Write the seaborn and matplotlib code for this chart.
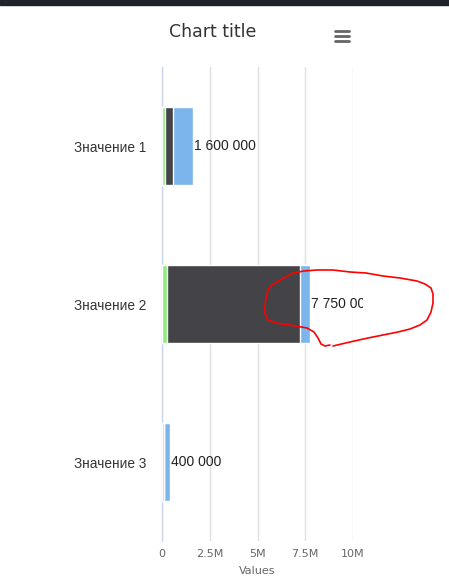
import matplotlib
matplotlib.use('Agg')
import matplotlib.pyplot as plt
import matplotlib.transforms as mtransforms
from matplotlib.lines import Line2D
from matplotlib.patches import Rectangle
import pandas as pd
import seaborn as sns

# данные
categories = ['Значение 1', 'Значение 2', 'Значение 3']
green_vals = [0.15e6, 0.25e6, 0.08e6]
dark_vals = [0.40e6, 6.95e6, 0.0]
blue_vals = [1.05e6, 0.55e6, 0.32e6]
value_labels = ['1 600 000', '7 750 000', '400 000']
x_ticks = [0, 2.5e6, 5e6, 7.5e6, 10e6]
x_ticklabels = ['0', '2.5M', '5M', '7.5M', '10M']

W, H = 449, 576
sns.set_theme(style='white')
plt.rcParams['font.family'] = ['DejaVu Sans']

fig = plt.figure(figsize=(W / 100, H / 100), dpi=100)
fig.patch.set_facecolor('white')
ax = fig.add_axes([162 / W, 1 - 541 / H, (353 - 162) / W, (541 - 67) / H])

df = pd.DataFrame({'cat': categories, 'g': green_vals, 'd': dark_vals, 'b': blue_vals})
df['gd'] = df['g'] + df['d']
df['total'] = df['gd'] + df['b']

# стек: рисуем накопленные суммы, от полной к меньшей
for col, color in [('total', '#7cb5ec'), ('gd', '#434348'), ('g', '#90ed7d')]:
    sns.barplot(data=df, y='cat', x=col, orient='h', color=color, width=0.49,
                edgecolor='white', linewidth=1, saturation=1, ax=ax, zorder=3)

ax.set_xlim(0, 10e6)
ax.set_xticks(x_ticks)
ax.set_xticklabels(x_ticklabels, color='#666666', fontsize=8)
ax.set_yticks(range(len(categories)))
ax.set_yticklabels(categories, fontfamily='Liberation Sans', fontsize=9.8, color='#333333')
ax.tick_params(axis='x', length=0, pad=6)
ax.tick_params(axis='y', length=0, pad=11.5)
ax.set_xlabel('')
ax.set_ylabel('')
ax.grid(axis='x', color='#e0e0e0', linewidth=1, zorder=0)
ax.set_axisbelow(True)
for s in ['top', 'right', 'bottom']:
    ax.spines[s].set_visible(False)
ax.spines['left'].set_color('#ccd6eb')
ax.spines['left'].set_linewidth(1)
ax.spines['left'].set_zorder(1)

clip = mtransforms.TransformedBbox(mtransforms.Bbox([[0, 0], [363 / W, 1]]), fig.transFigure)
for i, (tot, lab) in enumerate(zip(df['total'], value_labels)):
    t = ax.annotate(lab, (tot, i), xytext=(1.0, 0), textcoords='offset points',
                    ha='left', va='center', fontsize=10, color='#222222',
                    family='Liberation Sans', annotation_clip=False, zorder=5)
    t.set_clip_box(clip)
    t.set_clip_on(True)

# заголовок и подпись оси
fig.text(213 / W, 1 - 32 / H, 'Chart title', ha='center', va='center',
         fontsize=12.5, color='#333333')
fig.text(257.5 / W, 1 - 566 / H, 'Values', ha='center', va='top',
         fontsize=8, color='#666666')

# верхняя тёмная полоса
fig.add_artist(Rectangle((0, 1 - 5 / H), 1, 5 / H, transform=fig.transFigure,
                         color='#1f232a', zorder=10))

# иконка меню
for yy in [31, 36, 41]:
    fig.add_artist(Line2D([335 / W, 349 / W], [1 - yy / H, 1 - yy / H],
                          transform=fig.transFigure, color='#666666',
                          linewidth=2, solid_capstyle='round'))

# красная обводка от руки
loop = [(333, 346), (350, 342), (368, 338), (383, 335), (398, 332), (410, 329),
        (420, 325), (427, 320), (431, 312), (433, 303), (433, 294), (431, 288),
        (425, 284), (417, 281), (400, 278), (383, 276), (366, 273), (350, 272),
        (333, 270), (317, 270), (304, 271), (293, 273), (282, 279), (272, 285),
        (268, 290), (266, 298), (265, 306), (265, 314), (268, 320), (276, 323),
        (290, 325), (307, 328), (314, 332), (318, 338), (321, 344), (325, 346),
        (330, 345)]
lx = [p[0] / W for p in loop]
ly = [1 - p[1] / H for p in loop]
fig.add_artist(Line2D(lx, ly, transform=fig.transFigure, color='#ff0000',
                      linewidth=1.2, solid_joinstyle='round', zorder=11))

fig.savefig('out.png', dpi=100, facecolor='white')
